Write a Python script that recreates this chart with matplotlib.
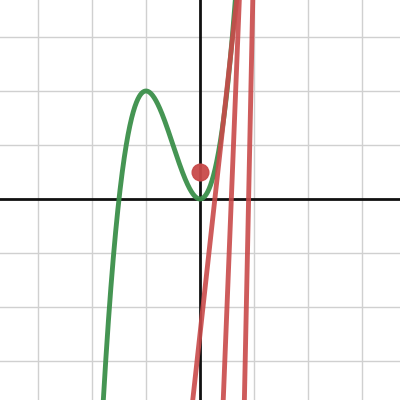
import numpy as np
import matplotlib
matplotlib.use("Agg")
import matplotlib.pyplot as plt

cubic_coeffs = [4, 6, 0, 0]  # 4x^3 + 6x^2
point = (0, 0.5)
line_slopes = [9.1, 24.9, 47.6]
line_xintercepts = [0.275, 0.58, 0.90]

xmin, xmax = -200/54, 200/54
ymin, ymax = -201/54, 199/54

fig = plt.figure(figsize=(4, 4), dpi=100)
ax = fig.add_axes([0, 0, 1, 1])
ax.set_xlim(xmin, xmax); ax.set_ylim(ymin, ymax)
for v in range(-4, 5):
    if v != 0:
        ax.axvline(v, color='#d0d0d0', lw=1, zorder=0)
        ax.axhline(v, color='#d0d0d0', lw=1, zorder=0)
ax.axvline(0, color='#111', lw=2, zorder=1)
ax.axhline(0, color='#111', lw=2, zorder=1)

x = np.linspace(xmin, xmax, 2000)
ax.plot(x, np.polyval(cubic_coeffs, x), color='#3b8f4a', lw=3.5, zorder=2, alpha=0.95)
for m, x0 in zip(line_slopes, line_xintercepts):
    ax.plot(x, m*(x - x0), color='#c94a4a', lw=3.5, zorder=3, alpha=0.9)
ax.plot(*point, 'o', color='#c94a4a', ms=12, zorder=4, alpha=0.95)
ax.axis('off')
fig.savefig('out.png', dpi=100)
